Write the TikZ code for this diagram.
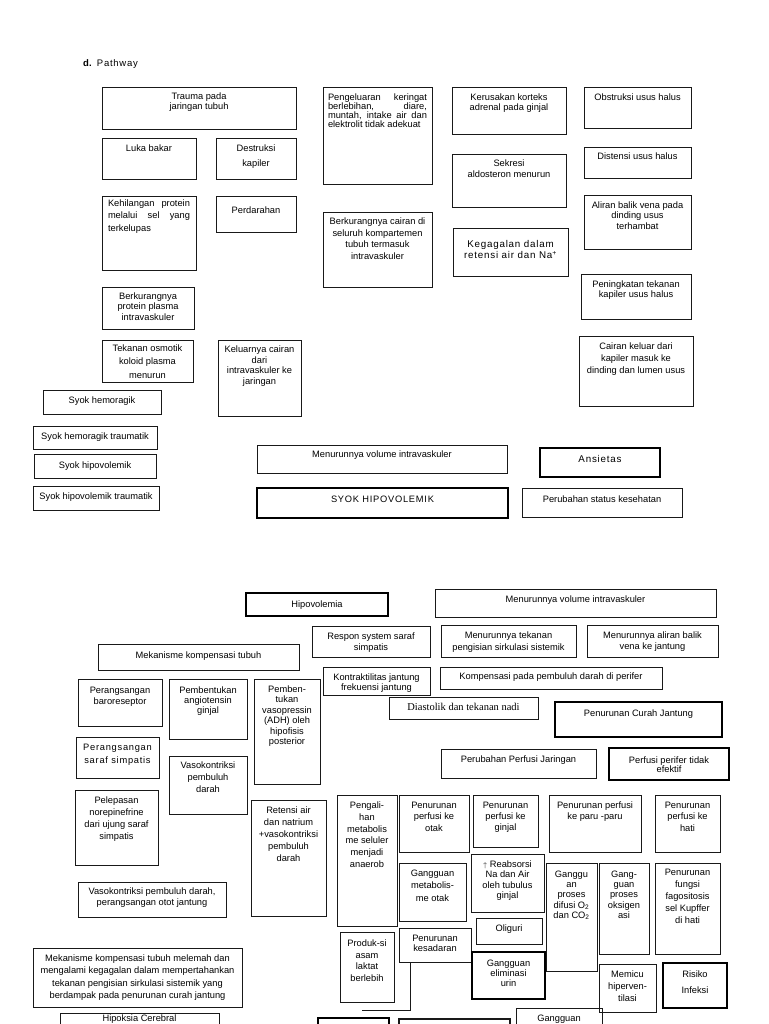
\documentclass[tikz,border=0pt]{standalone}
\usepackage{fontspec}
\setmainfont{Liberation Sans}
\newfontfamily\spc[LetterSpace=8]{Liberation Sans}
\newfontfamily\serf{Liberation Serif}
\usetikzlibrary{calc}
\tikzset{
  bxn/.style={draw=black!90, line width=0.9pt, rectangle, inner sep=0pt, outer sep=0pt},
  bxm/.style={draw=black!90, line width=1.5pt, rectangle, inner sep=0pt, outer sep=0pt},
  bxk/.style={draw=black, line width=2.3pt, rectangle, inner sep=0pt, outer sep=0pt},
  txt/.style={inner sep=0pt, align=center, font=\fontsize{9.3}{10.5}\selectfont},
  bsk/.style={font=\fontsize{9.3}{#1}\selectfont},
  justi/.style={align=justify, text width=#1, execute at begin node={\hyphenpenalty=10000\noindent}},
  conn/.style={draw=black!90, line width=0.9pt},
}
% #1 box style, #2 name, #3 x1, #4 y1, #5 x2, #6 y2, #7 top pad, #8 text opts, #9 text
\newcommand\bx[9]{%
  \node[#1, minimum width={#5-#3}, minimum height={#6-#4}, anchor=north west] (#2) at (#3,#4) {};
  \node[txt, anchor=north, #8] (#2-t) at ([yshift={-(#7+1.5)*1pt}]#2.north) {#9};
}
\begin{document}
\begin{tikzpicture}[x=1pt,y=-1pt]
\useasboundingbox (0,0) rectangle (768,1024);
\clip (0,0) rectangle (768,1024);
\fill[white] (0,0) rectangle (768,1024);

\node[anchor=base west, inner sep=0pt, font=\fontsize{9.5}{11}\selectfont] (head) at (83,67) {\textbf{d.}\ \ {\spc Pathway}};

% ---------- upper part ----------
\bx{bxn}{trauma}{102}{87}{296}{129}{4}{bsk=10}{Trauma pada\\jaringan tubuh}
\bx{bxn}{luka}{102}{138}{196}{179}{5}{}{Luka bakar}
\bx{bxn}{destr}{216}{138}{296}{179}{5}{bsk=15}{Destruksi\\kapiler}
\bx{bxn}{kehil}{102}{196}{196}{270}{2}{bsk=12.5,justi=82pt}{Kehilangan protein melalui sel yang terkelupas}
\bx{bxn}{perd}{216}{196}{296}{232}{9}{}{Perdarahan}
\bx{bxn}{pengel}{323}{87}{432}{184}{5}{bsk=9,justi=99pt}{Pengeluaran keringat berlebihan, diare, muntah, intake air dan elektrolit tidak adekuat}
\bx{bxn}{berkc}{323}{212}{432}{287}{4}{bsk=11.7}{Berkurangnya cairan di\\seluruh kompartemen\\tubuh termasuk\\intravaskuler}
\bx{bxn}{kerus}{452}{87}{566}{134}{5}{bsk=10}{Kerusakan korteks\\adrenal pada ginjal}
\bx{bxn}{sekresi}{452}{154}{566}{207}{4}{bsk=11}{Sekresi\\aldosteron menurun}
\bx{bxn}{kegag}{453}{228}{568}{276}{11}{font=\spc\fontsize{9.8}{11}\selectfont}{Kegagalan dalam\\retensi air dan Na\textsuperscript{+}}
\bx{bxn}{obstr}{584}{87}{691}{128}{5}{}{Obstruksi usus halus}
\bx{bxn}{disten}{584}{147}{691}{178}{4}{}{Distensi usus halus}
\bx{bxn}{aliran}{584}{195}{691}{249}{5}{bsk=10.5}{Aliran balik vena pada\\dinding usus\\terhambat}
\bx{bxn}{penin}{581}{274}{691}{319}{5}{bsk=10}{Peningkatan tekanan\\kapiler usus halus}
\bx{bxn}{cairk}{579}{336}{693}{406}{5}{bsk=12}{Cairan keluar dari\\kapiler masuk ke\\dinding dan lumen usus}
\bx{bxn}{berkp}{102}{287}{194}{329}{4}{bsk=10.5}{Berkurangnya\\protein plasma\\intravaskuler}
\bx{bxn}{tekos}{102}{340}{193}{382}{3}{bsk=13.5}{Tekanan osmotik\\koloid plasma\\menurun}
\bx{bxn}{keluar}{218}{340}{301}{416}{4}{bsk=10.7}{Keluarnya cairan\\dari\\intravaskuler ke\\jaringan}
\bx{bxn}{syhem}{43}{390}{161}{414}{5}{}{Syok hemoragik}
\bx{bxn}{syhemt}{33}{426}{157}{449}{5}{}{Syok hemoragik traumatik}
\bx{bxn}{syhip}{34}{454}{156}{478}{6}{}{Syok hipovolemik}
\bx{bxn}{syhipt}{33}{486}{159}{510}{5}{}{Syok hipovolemik traumatik}
\bx{bxn}{menvol}{257}{445}{507}{473}{4}{}{Menurunnya volume intravaskuler}
\bx{bxk}{syok}{257}{488}{508}{518}{6}{font=\spc\fontsize{9.3}{10.5}\selectfont}{SYOK HIPOVOLEMIK}
\bx{bxk}{ansi}{540}{448}{660}{477}{6}{font=\spc\fontsize{9.8}{11}\selectfont}{Ansietas}
\bx{bxn}{perst}{522}{488}{682}{517}{6}{}{Perubahan status kesehatan}

% ---------- lower part ----------
\bx{bxk}{hipo}{246}{593}{388}{616}{6}{}{Hipovolemia}
\bx{bxn}{menvol2}{435}{589}{716}{617}{5}{}{Menurunnya volume intravaskuler}
\bx{bxn}{respon}{312}{626}{430}{657}{5}{bsk=11}{Respon system saraf\\simpatis}
\bx{bxn}{mentek}{441}{625}{576}{657}{5}{bsk=12}{Menurunnya tekanan\\pengisian sirkulasi sistemik}
\bx{bxn}{menal}{587}{625}{718}{657}{5}{bsk=11}{Menurunnya aliran balik\\vena ke jantung}
\bx{bxn}{mekan}{98}{644}{299}{670}{6}{}{Mekanisme kompensasi tubuh}
\bx{bxn}{kontr}{323}{667}{430}{695}{5}{bsk=10}{Kontraktilitas jantung\\frekuensi jantung}
\bx{bxn}{kompp}{440}{667}{662}{689}{4}{}{Kompensasi pada pembuluh darah di perifer}
\bx{bxn}{diast}{389}{697}{538}{719}{5}{font=\serf\fontsize{10.5}{12}\selectfont}{Diastolik dan tekanan nadi}
\bx{bxk}{curah}{555}{702}{722}{737}{6}{}{Penurunan Curah Jantung}
\bx{bxn}{perfj}{441}{749}{596}{778}{5}{}{Perubahan Perfusi Jaringan}
\bx{bxk}{perfp}{609}{748}{729}{780}{7}{bsk=9}{Perfusi perifer tidak\\efektif}
\bx{bxn}{baro}{78}{679}{162}{726}{6}{bsk=11}{Perangsangan\\baroreseptor}
\bx{bxn}{angio}{169}{679}{247}{739}{6}{bsk=10}{Pembentukan\\angiotensin\\ginjal}
\bx{bxn}{vaso}{254}{679}{320}{784}{5}{bsk=10.5}{Pemben-\\tukan\\vasopressin\\(ADH) oleh\\hipofisis\\posterior}
\bx{bxn}{sarafs}{76}{737}{159}{778}{5}{font=\spc\fontsize{9.3}{13}\selectfont}{Perangsangan\\saraf simpatis}
\bx{bxn}{vasok}{169}{756}{247}{814}{4}{bsk=12}{Vasokontriksi\\pembuluh\\darah}
\bx{bxn}{norep}{75}{790}{158}{865}{5}{bsk=12}{Pelepasan\\norepinefrine\\dari ujung saraf\\simpatis}
\bx{bxn}{reten}{251}{800}{326}{916}{5}{bsk=12}{Retensi air\\dan natrium\\+vasokontriksi\\pembuluh\\darah}
\bx{bxn}{vasok2}{78}{882}{226}{917}{4}{bsk=11}{Vasokontriksi pembuluh darah,\\perangsangan otot jantung}
\bx{bxn}{melem}{33}{948}{242}{1007}{5}{bsk=12.3}{Mekanisme kompensasi tubuh melemah dan\\mengalami kegagalan dalam mempertahankan\\tekanan pengisian sirkulasi sistemik yang\\berdampak pada penurunan curah jantung}
\bx{bxn}{hipok}{60}{1013}{219}{1040}{0}{}{Hipoksia Cerebral}
\bx{bxn}{pengal}{337}{795}{397}{926}{5}{bsk=11.8}{Pengali-\\han\\metabolis\\me seluler\\menjadi\\anaerob}
\bx{bxn}{potak}{399}{795}{469}{852}{5}{bsk=11.5}{Penurunan\\perfusi ke\\otak}
\bx{bxn}{pginj}{473}{795}{538}{847}{5}{bsk=11}{Penurunan\\perfusi ke\\ginjal}
\bx{bxn}{pparu}{549}{795}{641}{852}{5}{bsk=11}{Penurunan perfusi\\ke paru -paru}
\bx{bxn}{phati}{655}{795}{720}{852}{5}{bsk=11.5}{Penurunan\\perfusi ke\\hati}
\bx{bxn}{gmet}{399}{863}{466}{921}{5}{bsk=12.5}{Gangguan\\metabolis-\\me otak}
\bx{bxn}{reab}{471}{854}{544}{912}{5}{bsk=10.3}{{\scriptsize$\uparrow$} Reabsorsi\\Na dan Air\\oleh tubulus\\ginjal}
\bx{bxn}{gdif}{546}{863}{597}{971}{6}{bsk=10.3}{Ganggu\\an\\proses\\difusi O\textsubscript{2}\\dan CO\textsubscript{2}}
\bx{bxn}{goks}{599}{863}{649}{954}{6}{bsk=10.3}{Gang-\\guan\\proses\\oksigen\\asi}
\bx{bxn}{fago}{655}{863}{720}{954}{4}{bsk=12}{Penurunan\\fungsi\\fagositosis\\sel Kupffer\\di hati}
\bx{bxn}{olig}{476}{918}{542}{944}{5}{}{Oliguri}
\bx{bxn}{laktat}{340}{932}{394}{1002}{6}{bsk=11.7}{Produk-si\\asam\\laktat\\berlebih}
\bx{bxn}{kesad}{399}{928}{471}{962}{5}{bsk=10}{Penurunan\\kesadaran}
\bx{bxk}{elim}{472}{952}{545}{999}{6}{bsk=10}{Gangguan\\eliminasi\\urin}
\bx{bxn}{hiperv}{599}{964}{656}{1012}{5}{bsk=12}{Memicu\\hiperven-\\tilasi}
\bx{bxk}{risiko}{663}{963}{727}{1008}{6}{bsk=16}{Risiko\\Infeksi}
\bx{bxn}{gangb}{516}{1008}{602}{1040}{5}{}{Gangguan}
\node[bxk, minimum width=71, minimum height=20, anchor=north west] (bb1) at (318,1018) {};
\node[bxm, minimum width=111, minimum height=20, anchor=north west] (bb2) at (399,1019) {};

% connector
\coordinate (kend) at (362,1010);
\draw[conn] ([xshift=11pt]kesad.south west) |- (kend);
\end{tikzpicture}
\end{document}
